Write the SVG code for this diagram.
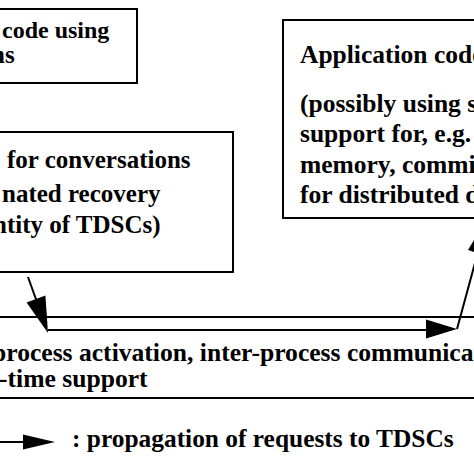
<svg xmlns="http://www.w3.org/2000/svg" width="474" height="474" viewBox="0 0 474 474">
<defs>
<style>
.box{fill:#fff;stroke:#000;stroke-width:2}
.ln{stroke:#000;stroke-width:2;fill:none}
.t{font-family:"Liberation Serif","Times New Roman",serif;font-weight:bold;font-size:25px;fill:#000}
.head{fill:#000}
</style>
</defs>
<rect width="474" height="474" fill="#fff"/>
<g id="app-code-conversations">
<rect class="box" x="-20" y="9" width="157" height="74"/>
<text class="t" x="2" y="38" style="font-size:24px">code using</text>
<text class="t" x="-9" y="63">ns</text>
</g>
<g id="app-code-right">
<rect class="box" x="283" y="20" width="220" height="198"/>
<text class="t" x="300" y="63" style="font-size:25.5px">Application code</text>
<text class="t" x="300" y="112" style="font-size:25.5px">(possibly using system</text>
<text class="t" x="300" y="142" style="font-size:25.5px">support for, e.g.</text>
<text class="t" x="300" y="173" style="font-size:25.5px">memory, commit</text>
<text class="t" x="300" y="203" style="font-size:25.5px">for distributed data</text>
</g>
<g id="support-conversations">
<rect class="box" x="-20" y="132" width="253" height="140"/>
<text class="t" x="7" y="168">for conversations</text>
<text class="t" x="2" y="202">nated recovery</text>
<text class="t" x="-7" y="233">ntity of TDSCs)</text>
</g>
<g id="runtime-support">
<line class="ln" x1="0" y1="317" x2="474" y2="317"/>
<line class="ln" x1="0" y1="398" x2="474" y2="398"/>
<text class="t" x="-8" y="361" style="font-size:25.6px">process activation, inter-process communication</text>
<text class="t" x="-1" y="387" style="font-size:25.6px">-time support</text>
</g>
<g id="connectors">
<line class="ln" x1="28" y1="277" x2="42" y2="316"/>
<polygon class="head" points="48,333 26.6,302.4 45.4,295.6"/>
<line class="ln" x1="48" y1="330" x2="430" y2="330"/>
<polygon class="head" points="457,329 426,319.5 426,338.5"/>
<line class="ln" x1="457" y1="329" x2="478" y2="252"/>
<polygon class="head" points="487,218 468,250 487,256"/>
</g>
<g id="legend">
<line class="ln" x1="0" y1="442" x2="26" y2="442"/>
<polygon class="head" points="55,442 23,434.5 23,449.5"/>
<text class="t" x="72" y="447" style="font-size:25.4px">: propagation of requests to TDSCs</text>
</g>
</svg>
